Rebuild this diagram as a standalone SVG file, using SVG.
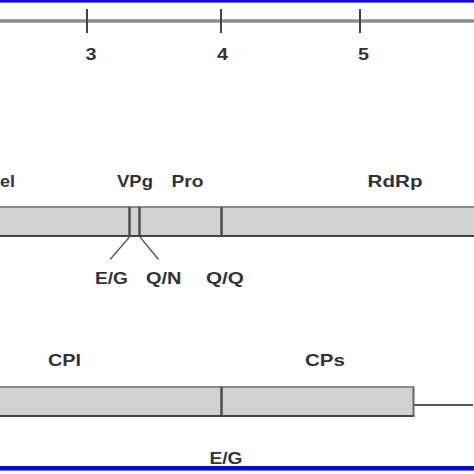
<svg xmlns="http://www.w3.org/2000/svg" width="474" height="474" viewBox="0 0 474 474">
<style>
.t{font-family:"Liberation Sans",Arial,sans-serif;font-size:16.5px;font-weight:bold;fill:#333}
.bar{fill:#d2d2d2}
.bt{stroke:#8c8c8c;stroke-width:2}
.bb{stroke:#444;stroke-width:2.2}
.div{stroke:#4a4a4a;stroke-width:2.4}
.ln{stroke:#555;stroke-width:1.3;fill:none}
</style>
<rect width="474" height="474" fill="#fff"/>
<rect x="0" y="0" width="474" height="2.6" fill="#0a0ae0"/>
<g id="axis">
<line x1="0" y1="21" x2="474" y2="21" stroke="#8e8e8e" stroke-width="3.5"/>
<line x1="87" y1="9" x2="87" y2="33" stroke="#444" stroke-width="2"/>
<line x1="221" y1="9" x2="221" y2="33" stroke="#444" stroke-width="2"/>
<line x1="360" y1="9" x2="360" y2="33" stroke="#444" stroke-width="2"/>
<text class="t" x="85.5" y="60" textLength="11" lengthAdjust="spacingAndGlyphs">3</text>
<text class="t" x="217" y="60" textLength="11" lengthAdjust="spacingAndGlyphs">4</text>
<text class="t" x="358" y="60" textLength="11" lengthAdjust="spacingAndGlyphs">5</text>
</g>
<g id="polyprotein">
<rect class="bar" x="-2" y="207" width="480" height="29"/>
<line class="bt" x1="-2" y1="207" x2="478" y2="207"/>
<line class="bb" x1="-2" y1="236" x2="478" y2="236"/>
<line class="div" x1="129.5" y1="207" x2="129.5" y2="236"/>
<line class="div" x1="139.5" y1="207" x2="139.5" y2="236"/>
<line class="div" x1="221.5" y1="207" x2="221.5" y2="236"/>
</g>
<g id="polyprotein-labels">
<text class="t" x="0" y="187" textLength="15" lengthAdjust="spacingAndGlyphs">el</text>
<text class="t" x="117" y="187" textLength="36" lengthAdjust="spacingAndGlyphs">VPg</text>
<text class="t" x="171.5" y="187" textLength="32" lengthAdjust="spacingAndGlyphs">Pro</text>
<text class="t" x="367.5" y="187" textLength="55" lengthAdjust="spacingAndGlyphs">RdRp</text>
</g>
<g id="connectors">
<line class="ln" x1="129.5" y1="237" x2="110" y2="259.5"/>
<line class="ln" x1="140" y1="237" x2="158.5" y2="259.5"/>
<line x1="414" y1="405" x2="473" y2="405" stroke="#555" stroke-width="2"/>
</g>
<g id="cleavage-sites">
<text class="t" x="95" y="284" textLength="33" lengthAdjust="spacingAndGlyphs">E/G</text>
<text class="t" x="146" y="284" textLength="35.5" lengthAdjust="spacingAndGlyphs">Q/N</text>
<text class="t" x="206" y="284" textLength="38" lengthAdjust="spacingAndGlyphs">Q/Q</text>
</g>
<g id="capsid">
<rect class="bar" x="-2" y="387" width="415.5" height="29"/>
<line class="bt" x1="-2" y1="387" x2="414" y2="387"/>
<line class="bb" x1="-2" y1="416" x2="414.5" y2="416"/>
<line x1="413.5" y1="387" x2="413.5" y2="417" stroke="#666" stroke-width="2"/>
<line class="div" x1="221.5" y1="387" x2="221.5" y2="416"/>
<text class="t" x="48" y="366" textLength="33" lengthAdjust="spacingAndGlyphs">CPl</text>
<text class="t" x="305" y="366" textLength="40" lengthAdjust="spacingAndGlyphs">CPs</text>
<text class="t" x="209.5" y="463.5" textLength="33" lengthAdjust="spacingAndGlyphs">E/G</text>
</g>
<rect x="0" y="466" width="474" height="4.6" fill="#0a0ae0"/>
</svg>
